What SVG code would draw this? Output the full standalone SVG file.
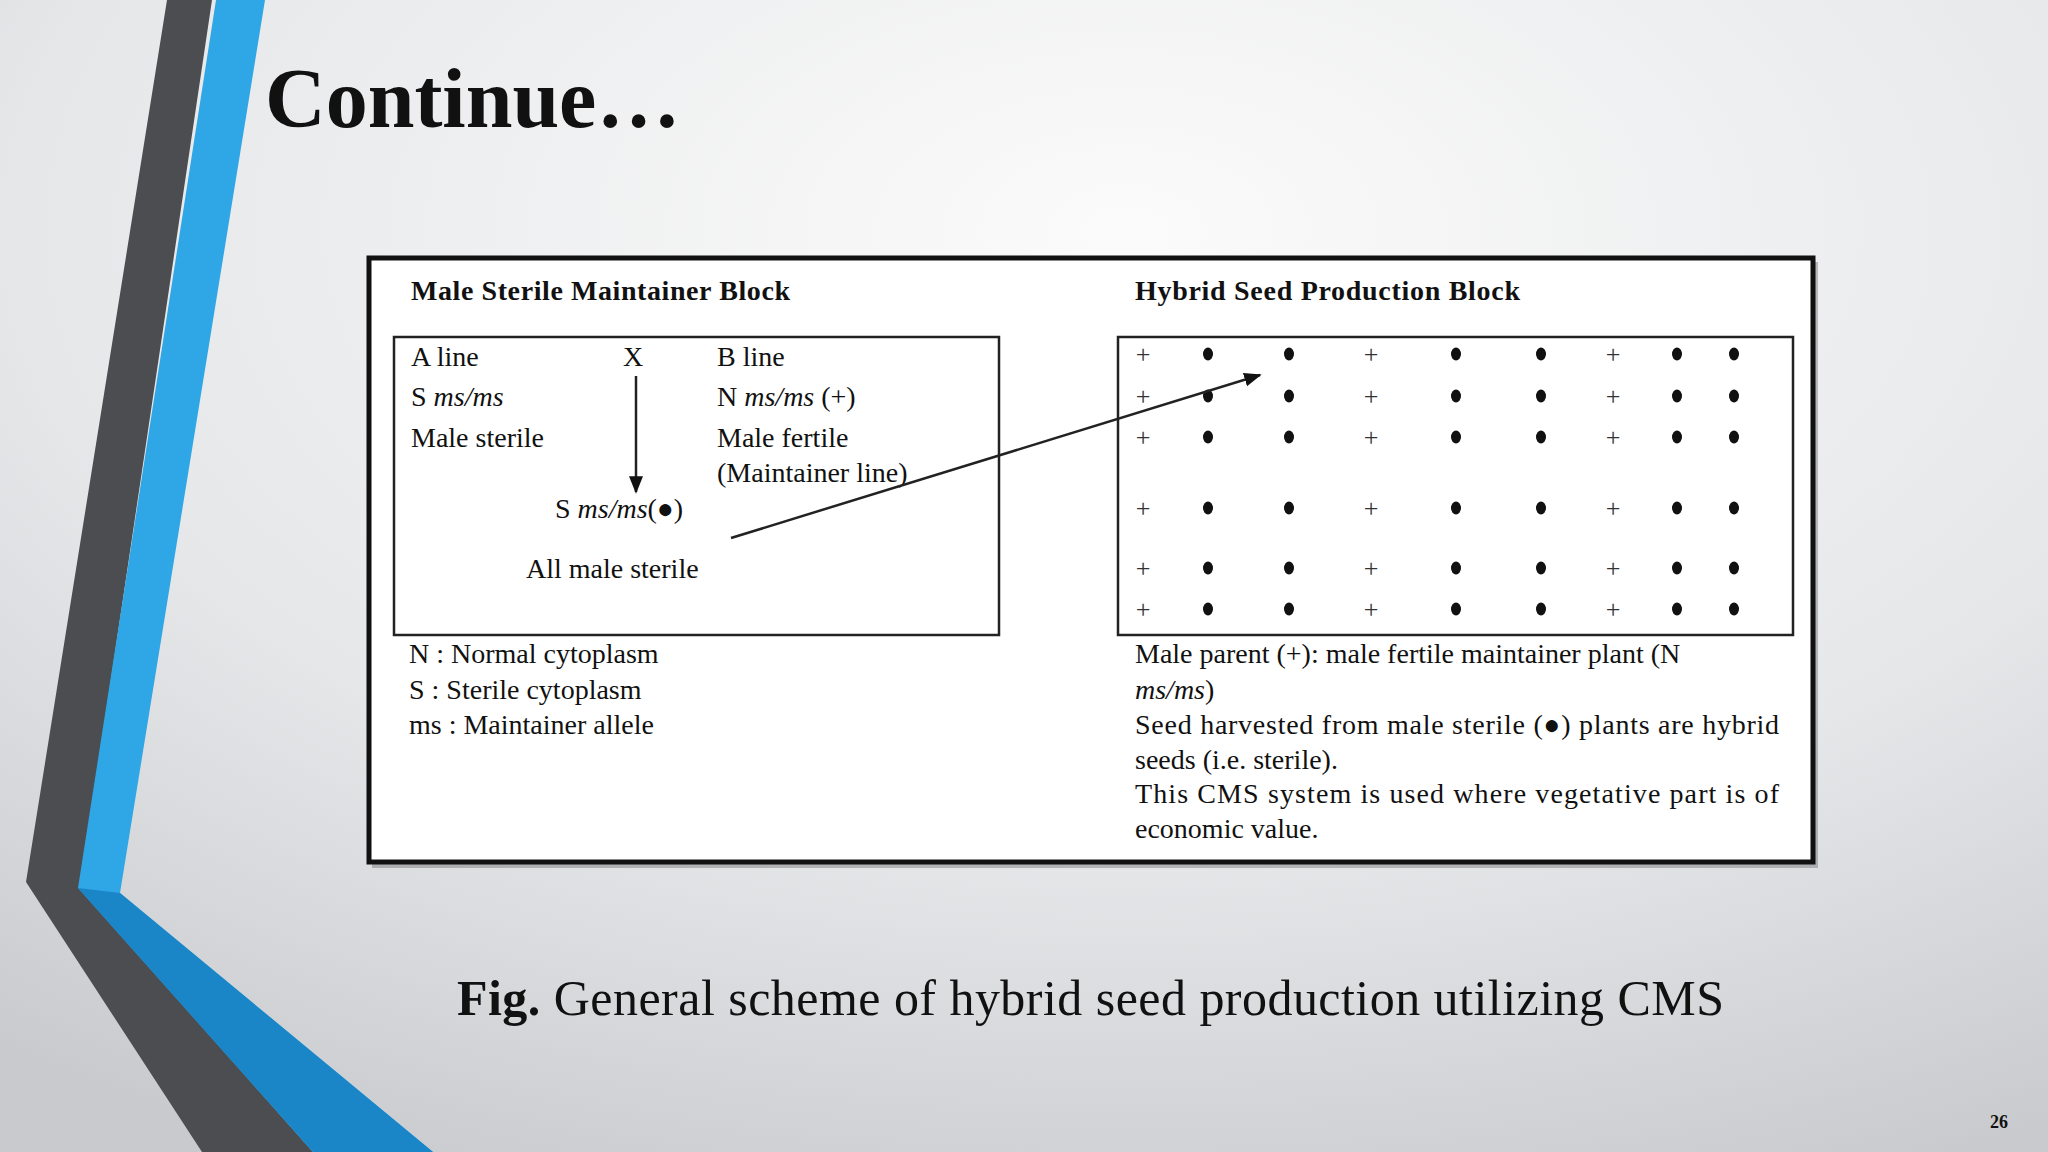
<svg xmlns="http://www.w3.org/2000/svg" width="2048" height="1152" viewBox="0 0 2048 1152">
<defs>
<radialGradient id="bg" cx="0.55" cy="0.2" r="0.9">
<stop offset="0" stop-color="#fbfbfb"/><stop offset="0.6" stop-color="#e6e7e9"/><stop offset="1" stop-color="#c9cacd"/>
</radialGradient>
<marker id="ah" viewBox="0 0 10 10" refX="9" refY="5" markerWidth="7" markerHeight="7" orient="auto"><path d="M0,1 L10,5 L0,9 Z" fill="#111"/></marker>
<style>
.t{font-family:"Liberation Serif",serif;fill:#111;font-size:28px}
.h{font-family:"Liberation Serif",serif;fill:#111;font-size:28px;font-weight:bold}
.i{font-style:italic}
.ln{stroke:#222;stroke-width:2.5;fill:none}
.dot{fill:#111}
.pl{font-family:"Liberation Serif",serif;fill:#333;font-size:26px}
</style>
</defs>
<rect width="2048" height="1152" fill="url(#bg)"/>
<polygon points="167,0 212,0 80,888 313,1152 202,1152 26,882" fill="#4b4d50"/>
<polygon points="216,0 265,0 120,893 433,1152 313,1152 78,888" fill="#2fa6e6"/>
<polygon points="78,888 120,893 433,1152 313,1152" fill="#1a86c8"/>
<text x="265" y="127" font-family="Liberation Serif,serif" font-weight="bold" font-size="84" fill="#111">Continue…</text>
<g id="figure">
<rect x="372" y="262" width="1446" height="606" fill="#555" opacity="0.35"/>
<rect x="369" y="258" width="1444" height="604" fill="#fff" stroke="#111" stroke-width="5"/>
</g>
<g id="maintainer">
<text class="h" x="411" y="300" textLength="379">Male Sterile Maintainer Block</text>
<rect x="394" y="337" width="605" height="298" class="ln" stroke-width="2"/>
<text class="t" x="411" y="366">A line</text>
<text class="t" x="623" y="366">X</text>
<text class="t" x="717" y="366">B line</text>
<text class="t" x="411" y="406">S <tspan class="i">ms/ms</tspan></text>
<text class="t" x="717" y="406">N <tspan class="i">ms/ms</tspan> (+)</text>
<text class="t" x="411" y="447">Male sterile</text>
<text class="t" x="717" y="447">Male fertile</text>
<text class="t" x="717" y="482">(Maintainer line)</text>
<text class="t" x="555" y="518">S <tspan class="i">ms/ms</tspan>(●)</text>
<text class="t" x="526" y="578">All male sterile</text>
<text class="t" x="409" y="663">N : Normal cytoplasm</text>
<text class="t" x="409" y="699">S  : Sterile cytoplasm</text>
<text class="t" x="409" y="734">ms : Maintainer allele</text>
</g>
<g id="production">
<text class="h" x="1135" y="300" textLength="385">Hybrid Seed Production Block</text>
<rect x="1118" y="337" width="675" height="298" class="ln" stroke-width="2"/>
<g class="pl" text-anchor="middle">
<text x="1143" y="363">+</text><text x="1371" y="363">+</text><text x="1613" y="363">+</text>
<text x="1143" y="405">+</text><text x="1371" y="405">+</text><text x="1613" y="405">+</text>
<text x="1143" y="446">+</text><text x="1371" y="446">+</text><text x="1613" y="446">+</text>
<text x="1143" y="517">+</text><text x="1371" y="517">+</text><text x="1613" y="517">+</text>
<text x="1143" y="577">+</text><text x="1371" y="577">+</text><text x="1613" y="577">+</text>
<text x="1143" y="618">+</text><text x="1371" y="618">+</text><text x="1613" y="618">+</text>
</g>
<g class="dot">
<ellipse cx="1208" cy="354" rx="5" ry="6.5"/><ellipse cx="1289" cy="354" rx="5" ry="6.5"/><ellipse cx="1456" cy="354" rx="5" ry="6.5"/><ellipse cx="1541" cy="354" rx="5" ry="6.5"/><ellipse cx="1677" cy="354" rx="5" ry="6.5"/><ellipse cx="1734" cy="354" rx="5" ry="6.5"/>
<ellipse cx="1208" cy="396" rx="5" ry="6.5"/><ellipse cx="1289" cy="396" rx="5" ry="6.5"/><ellipse cx="1456" cy="396" rx="5" ry="6.5"/><ellipse cx="1541" cy="396" rx="5" ry="6.5"/><ellipse cx="1677" cy="396" rx="5" ry="6.5"/><ellipse cx="1734" cy="396" rx="5" ry="6.5"/>
<ellipse cx="1208" cy="437" rx="5" ry="6.5"/><ellipse cx="1289" cy="437" rx="5" ry="6.5"/><ellipse cx="1456" cy="437" rx="5" ry="6.5"/><ellipse cx="1541" cy="437" rx="5" ry="6.5"/><ellipse cx="1677" cy="437" rx="5" ry="6.5"/><ellipse cx="1734" cy="437" rx="5" ry="6.5"/>
<ellipse cx="1208" cy="508" rx="5" ry="6.5"/><ellipse cx="1289" cy="508" rx="5" ry="6.5"/><ellipse cx="1456" cy="508" rx="5" ry="6.5"/><ellipse cx="1541" cy="508" rx="5" ry="6.5"/><ellipse cx="1677" cy="508" rx="5" ry="6.5"/><ellipse cx="1734" cy="508" rx="5" ry="6.5"/>
<ellipse cx="1208" cy="568" rx="5" ry="6.5"/><ellipse cx="1289" cy="568" rx="5" ry="6.5"/><ellipse cx="1456" cy="568" rx="5" ry="6.5"/><ellipse cx="1541" cy="568" rx="5" ry="6.5"/><ellipse cx="1677" cy="568" rx="5" ry="6.5"/><ellipse cx="1734" cy="568" rx="5" ry="6.5"/>
<ellipse cx="1208" cy="609" rx="5" ry="6.5"/><ellipse cx="1289" cy="609" rx="5" ry="6.5"/><ellipse cx="1456" cy="609" rx="5" ry="6.5"/><ellipse cx="1541" cy="609" rx="5" ry="6.5"/><ellipse cx="1677" cy="609" rx="5" ry="6.5"/><ellipse cx="1734" cy="609" rx="5" ry="6.5"/>
</g>
<text class="t" x="1135" y="663">Male parent (+): male fertile maintainer plant (N</text>
<text class="t i" x="1135" y="699">ms/ms<tspan font-style="normal">)</tspan></text>
<text class="t" x="1135" y="734" textLength="644">Seed harvested from male sterile (●) plants are hybrid</text>
<text class="t" x="1135" y="769">seeds (i.e. sterile).</text>
<text class="t" x="1135" y="803" textLength="644">This CMS system is used where vegetative part is of</text>
<text class="t" x="1135" y="838">economic value.</text>
</g>
<g id="connectors">
<line x1="636" y1="376" x2="636" y2="492" class="ln" stroke="#111" marker-end="url(#ah)"/>
<line x1="731" y1="538" x2="1260" y2="375" class="ln" stroke="#111" marker-end="url(#ah)"/>
</g>
<text x="457" y="1015" font-family="Liberation Serif,serif" font-size="50" fill="#111" textLength="1267"><tspan font-weight="bold">Fig.</tspan> General scheme of hybrid seed production utilizing CMS</text>
<text x="1990" y="1128" font-family="Liberation Serif,serif" font-size="18" font-weight="bold" fill="#111">26</text>
</svg>
